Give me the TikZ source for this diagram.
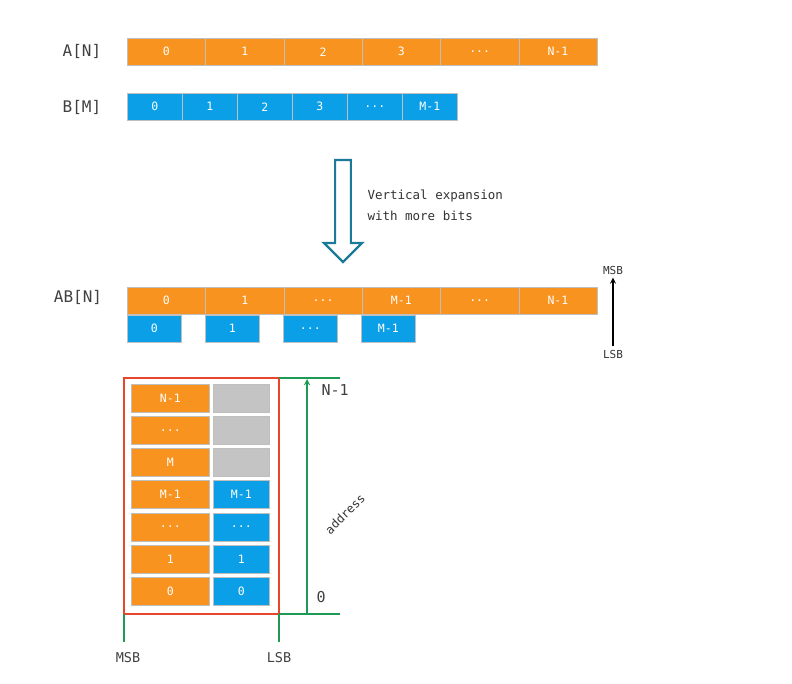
\documentclass[tikz,border=0pt]{standalone}
\usepackage{fontspec}
\setmainfont{DejaVu Sans Mono}
\usetikzlibrary{shapes.arrows}
\definecolor{orangecell}{HTML}{F7931E}
\definecolor{bluecell}{HTML}{0A9FE6}
\definecolor{graycell}{HTML}{C4C4C4}
\definecolor{greenline}{HTML}{1E9A55}
\definecolor{redbox}{HTML}{E8452C}
\definecolor{tealarrow}{HTML}{1C7A99}
\newcommand\cellgap{...}
\tikzset{
  cell/.style={draw=black!25, line width=0.6pt, text=white, font=\fontsize{11.5}{13}\selectfont,
    minimum height=27pt, inner sep=0pt, anchor=north west},
  acell/.style={cell, fill=orangecell, minimum width=78.3pt},
  bcell/.style={cell, fill=bluecell, minimum width=55pt},
  lbl/.style={font=\fontsize{16}{18}\selectfont, text=black!75},
}
\begin{document}
\begin{tikzpicture}[x=1pt,y=-1pt]
		\useasboundingbox[fill=white] (0,0) rectangle (792,683);

		% the two arrays
		\node[lbl] (la) at (82,51) {A[N]};
		\node[lbl] (lb) at (82,107) {B[M]};
		\foreach \t [count=\i from 0] in {0,1,2,3,\cellgap,N-1}
			\node[acell] (a\i) at (127+78.3*\i,38) {\t};
		\foreach \t [count=\i from 0] in {0,1,2,3,\cellgap,M-1}
			\node[bcell] (b\i) at (127+55*\i,93) {\t};

		% expansion arrow
		\node[single arrow, draw=tealarrow, line width=2.2pt, fill=white, shape border rotate=270,
			minimum width=38pt, single arrow head extend=10pt, single arrow tip angle=90,
			minimum height=102pt, inner sep=6pt] (down) at (343,207) {};
		\node[align=left, anchor=west, font=\fontsize{12.5}{21}\selectfont, text=black!80] (note) at (364,205)
			{Vertical expansion\\with more bits};

		% combined array
		\node[lbl] (lab) at (78,297) {AB[N]};
		\foreach \t [count=\i from 0] in {0,1,\cellgap,M-1,\cellgap,N-1}
			\node[acell] (ab\i) at (127+78.3*\i,287) {\t};
		\foreach \t [count=\i from 0] in {0,1,\cellgap,M-1}
			\node[bcell, minimum width=54pt] (bb\i) at (127+78*\i,315) {\t};
		\node[font=\fontsize{11}{13}\selectfont, text=black!80] (msb) at (613,270) {MSB};
		\node[font=\fontsize{11}{13}\selectfont, text=black!80] (lsb) at (613,354) {LSB};
		\draw[->, >=stealth, line width=1.6pt] (lsb.north) -- (msb.south);

		% memory layout
		\foreach \t [count=\i from 0] in {0,1,\cellgap,M-1,M,\cellgap,N-1}
			\node[acell, minimum width=78pt, minimum height=28pt] (m\i) at (131,577-32.2*\i) {\t};
		\foreach \t [count=\i from 0] in {0,1,\cellgap,M-1}
			\node[bcell, minimum width=56pt, minimum height=28pt] (n\i) at (213,577-32.2*\i) {\t};
		\foreach \i in {4,5,6}
			\node[cell, fill=graycell, minimum width=56pt, minimum height=28pt] (n\i) at (213,577-32.2*\i) {};
		\draw[redbox, line width=1.5pt] (124,378) coordinate (tl) rectangle (279,614) coordinate (br);

		% address axis
		\coordinate (top) at (340,378);
		\coordinate (bot) at (340,614);
		\draw[greenline, line width=1.8pt] (279,378) -- (top);
		\draw[greenline, line width=1.8pt] (279,614) -- (bot);
		\draw[greenline, line width=1.8pt, ->, >=stealth] (307,614) -- (307,379);
		\draw[greenline, line width=1.8pt] (124,614) -- (124,642);
		\draw[greenline, line width=1.8pt] (279,614) -- (279,642);
		\node[lbl, anchor=west, font=\fontsize{15}{17}\selectfont] (top lbl) at (318,390) {N-1};
		\node[lbl, anchor=west, font=\fontsize{15}{17}\selectfont] (bot lbl) at (313,597) {0};
		\node[rotate=45, font=\fontsize{12}{14}\selectfont, text=black!80] (addr) at (345,514) {address};
		\node[lbl, font=\fontsize{13.5}{15}\selectfont] (mmsb) at (128,658) {MSB};
		\node[lbl, font=\fontsize{13.5}{15}\selectfont] (mlsb) at (279,658) {LSB};
	\end{tikzpicture}
\end{document}
